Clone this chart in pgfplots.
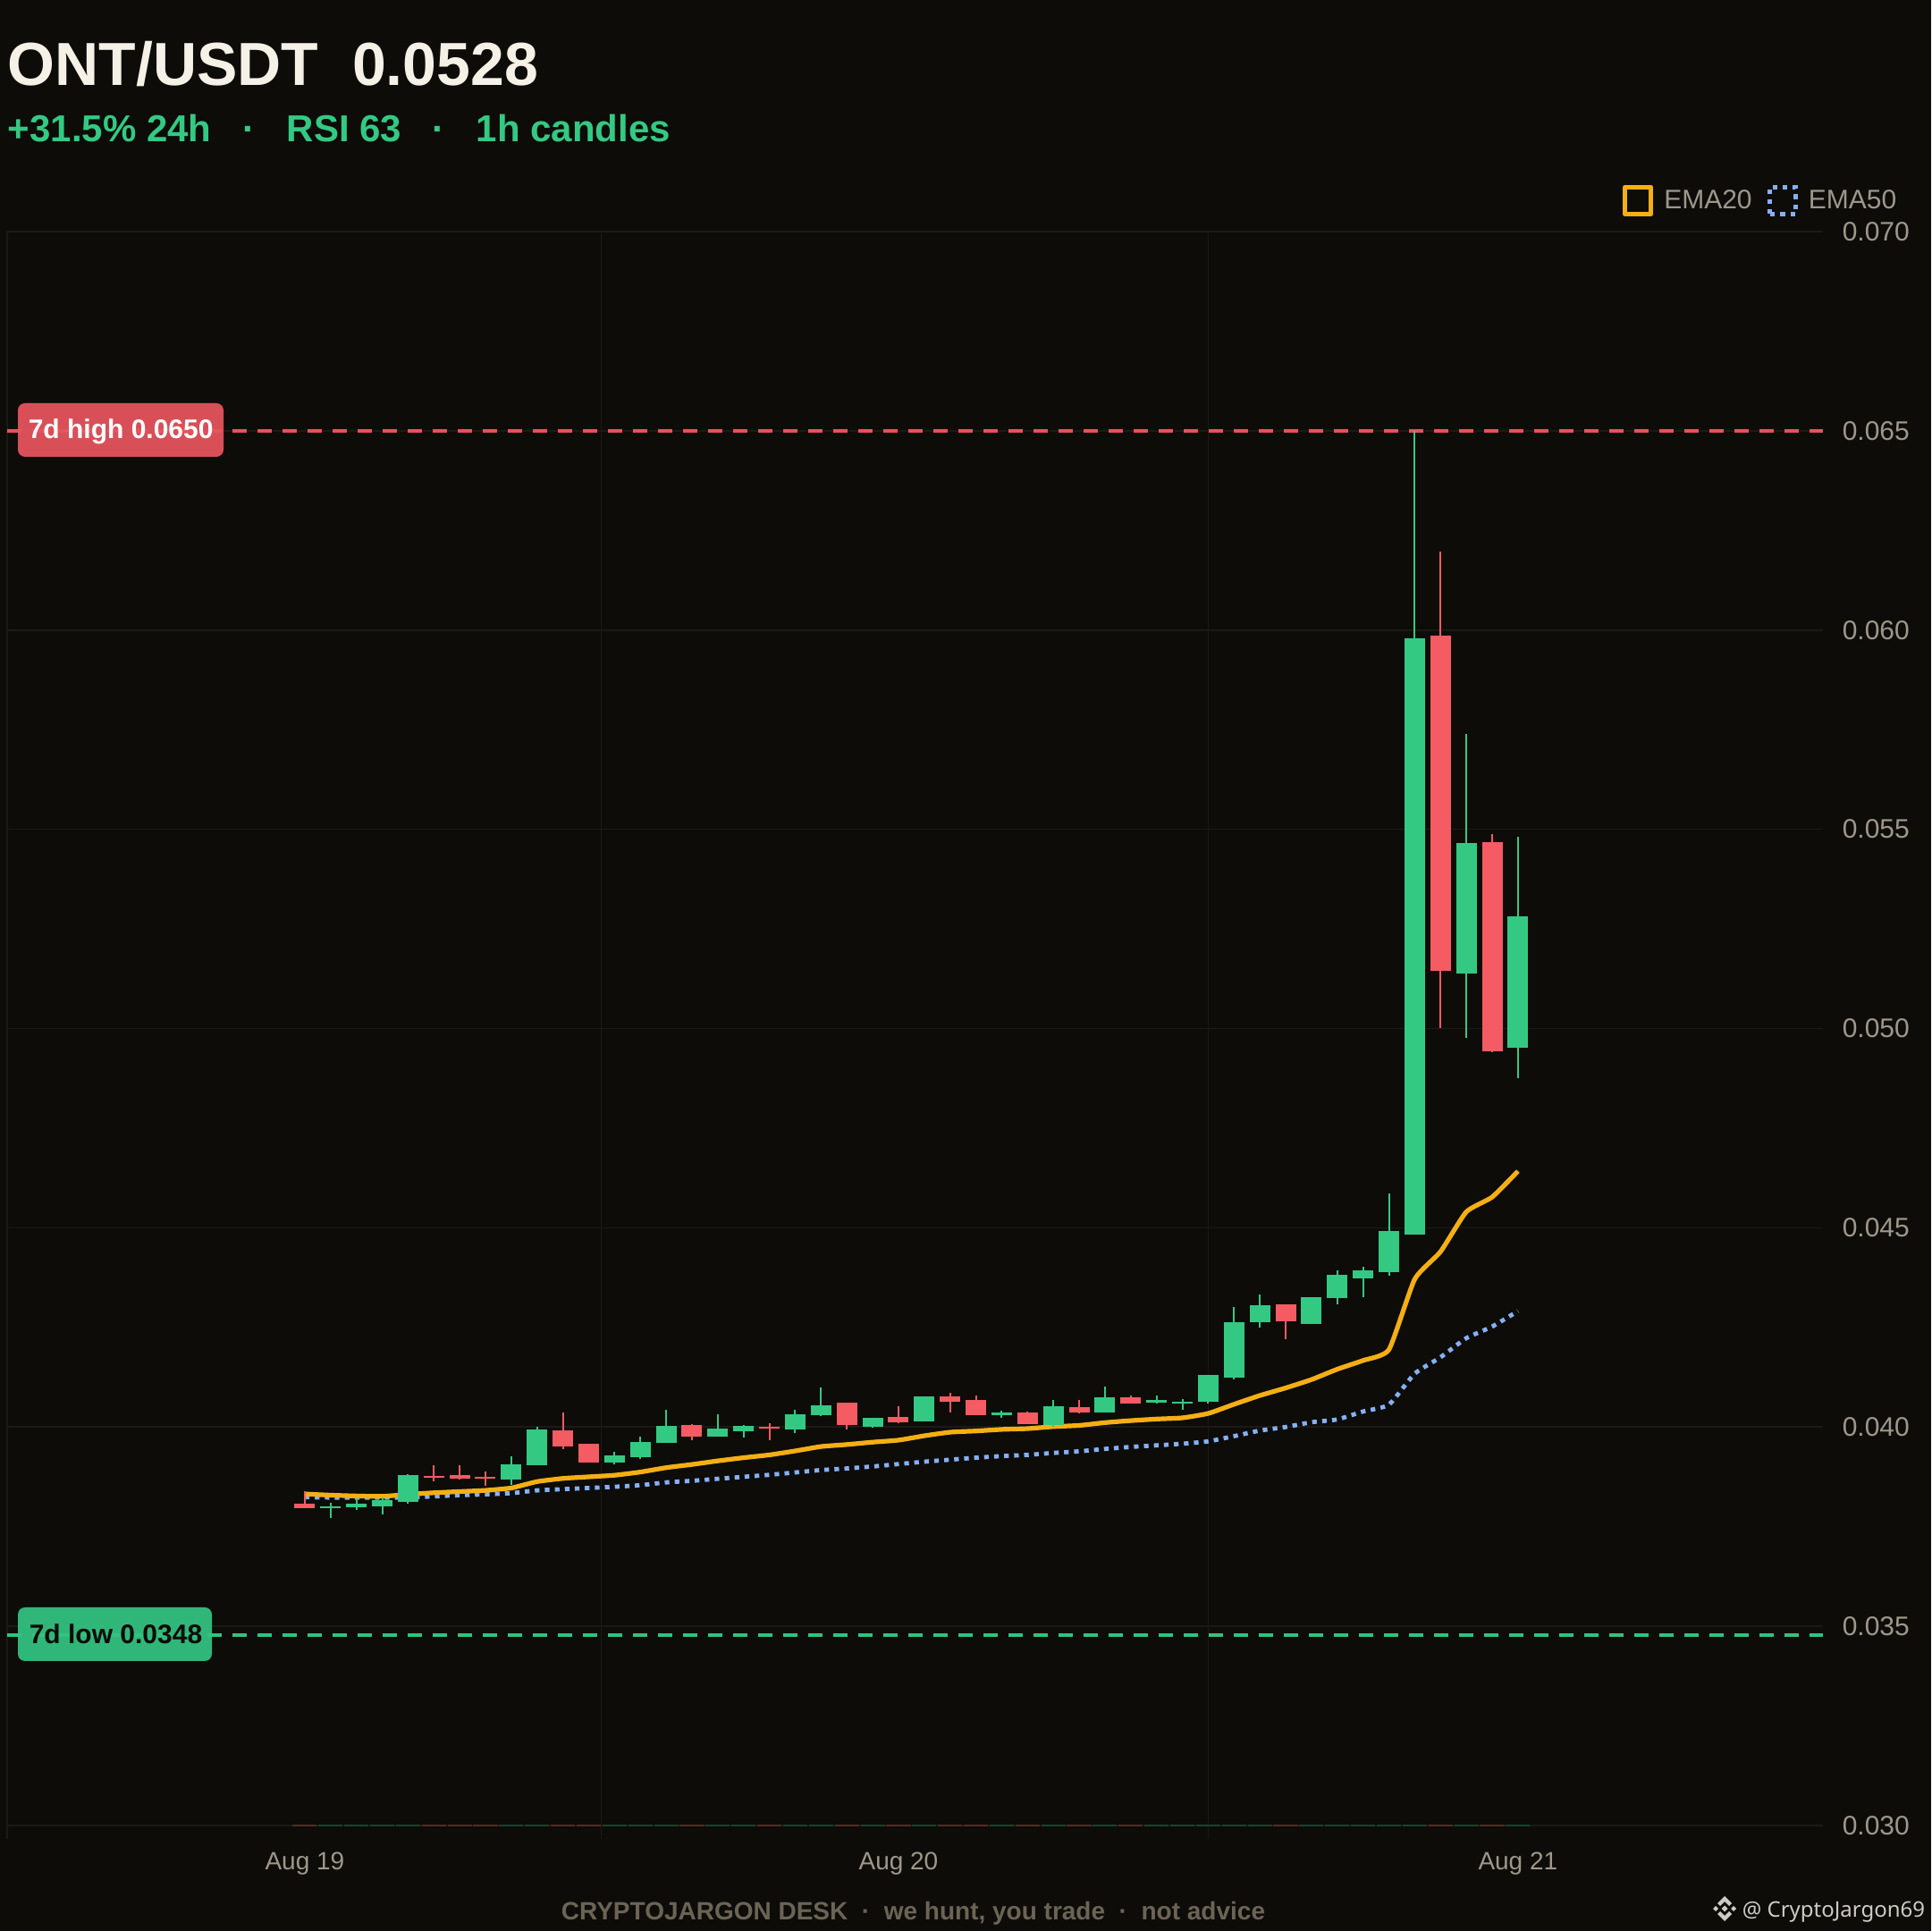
\documentclass[border=0pt]{standalone}
\usepackage{fontspec}
\usepackage{pgfplots}
\usepackage{pgfplotstable}
\pgfplotsset{compat=1.18}
\setmainfont{Liberation Sans}
\newfontfamily\wmfont{Noto Sans}

\definecolor{bgc}{RGB}{13,12,9}
\definecolor{gridc}{RGB}{27,26,23}
\definecolor{upc}{RGB}{52,201,131}
\definecolor{downc}{RGB}{244,91,98}
\definecolor{upvol}{RGB}{20,70,48}
\definecolor{downvol}{RGB}{88,42,36}
\definecolor{ema20c}{RGB}{245,175,20}
\definecolor{ema50c}{RGB}{133,176,245}
\definecolor{tickc}{RGB}{158,151,138}
\definecolor{titlec}{RGB}{246,241,230}
\definecolor{footc}{RGB}{107,100,85}
\definecolor{wmc}{RGB}{205,203,195}
\definecolor{highbox}{RGB}{232,85,94}
\definecolor{lowbox}{RGB}{51,195,130}
\definecolor{highline}{RGB}{234,80,88}
\definecolor{lowline}{RGB}{46,196,128}

% x bodylo bodyhi lo hi
\pgfplotstableread{
x bodylo bodyhi lo hi
1 0.03797 0.03802 0.03771 0.03809
2 0.03798 0.03807 0.03791 0.03820
3 0.03802 0.03817 0.03780 0.03824
4 0.03811 0.03879 0.03807 0.03882
8 0.03868 0.03907 0.03854 0.03927
9 0.03905 0.03993 0.03905 0.04001
12 0.03910 0.03929 0.03906 0.03937
13 0.03924 0.03962 0.03919 0.03975
14 0.03960 0.04002 0.03960 0.04043
16 0.03976 0.03996 0.03976 0.04031
17 0.03990 0.04002 0.03974 0.04004
19 0.03994 0.04031 0.03985 0.04044
20 0.04030 0.04054 0.04027 0.04100
22 0.04001 0.04024 0.03998 0.04024
24 0.04013 0.04077 0.04013 0.04077
27 0.04030 0.04037 0.04023 0.04041
29 0.04006 0.04052 0.04000 0.04068
31 0.04037 0.04074 0.04037 0.04102
33 0.04061 0.04067 0.04058 0.04079
34 0.04058 0.04064 0.04043 0.04070
35 0.04063 0.04130 0.04058 0.04130
36 0.04125 0.04264 0.04119 0.04302
37 0.04263 0.04305 0.04249 0.04332
39 0.04258 0.04326 0.04258 0.04326
40 0.04323 0.04383 0.04307 0.04393
41 0.04374 0.04393 0.04326 0.04402
42 0.04388 0.04492 0.04380 0.04585
43 0.04484 0.05979 0.04482 0.06500
45 0.05138 0.05466 0.04976 0.05739
47 0.04951 0.05281 0.04875 0.05481
}\upcandles

\pgfplotstableread{
x bodylo bodyhi lo hi
0 0.03797 0.03808 0.03797 0.03840
5 0.03873 0.03878 0.03863 0.03903
6 0.03871 0.03879 0.03868 0.03905
7 0.03870 0.03876 0.03852 0.03889
10 0.03951 0.03991 0.03945 0.04036
11 0.03910 0.03957 0.03910 0.03957
15 0.03975 0.04004 0.03966 0.04007
18 0.03996 0.04001 0.03968 0.04009
21 0.04004 0.04062 0.03993 0.04062
23 0.04012 0.04025 0.04009 0.04053
25 0.04064 0.04076 0.04036 0.04085
26 0.04030 0.04067 0.04030 0.04079
28 0.04007 0.04036 0.04007 0.04039
30 0.04037 0.04051 0.04034 0.04068
32 0.04059 0.04074 0.04058 0.04080
38 0.04266 0.04309 0.04220 0.04309
44 0.05144 0.05985 0.05002 0.06197
46 0.04943 0.05467 0.04941 0.05489
}\downcandles

\pgfplotstableread{
x ema20 ema50
0 0.03832 0.03824
1 0.03829 0.03823
2 0.03827 0.03823
3 0.03826 0.03823
4 0.03831 0.03823
5 0.03835 0.03826
6 0.03838 0.03829
7 0.03841 0.03831
8 0.03847 0.03834
9 0.03863 0.03841
10 0.03871 0.03844
11 0.03875 0.03847
12 0.03879 0.03850
13 0.03887 0.03854
14 0.03898 0.03861
15 0.03906 0.03865
16 0.03915 0.03870
17 0.03923 0.03875
18 0.03930 0.03880
19 0.03940 0.03886
20 0.03951 0.03892
21 0.03956 0.03896
22 0.03962 0.03901
23 0.03967 0.03907
24 0.03978 0.03913
25 0.03987 0.03918
26 0.03990 0.03923
27 0.03994 0.03927
28 0.03996 0.03930
29 0.04001 0.03935
30 0.04004 0.03939
31 0.04011 0.03945
32 0.04016 0.03950
33 0.04020 0.03954
34 0.04023 0.03958
35 0.04034 0.03964
36 0.04057 0.03977
37 0.04079 0.03991
38 0.04098 0.04000
39 0.04119 0.04012
40 0.04145 0.04019
41 0.04167 0.04039
42 0.04194 0.04056
43 0.04371 0.04134
44 0.04440 0.04175
45 0.04540 0.04223
46 0.04577 0.04252
47 0.04642 0.04291
}\emas

\begin{document}
\begin{tikzpicture}
\useasboundingbox (0,0) rectangle (540pt,540pt);
\fill[bgc] (0,0) rectangle (540pt,540pt);

\begin{axis}[
    at={(2.0pt,29.5pt)}, anchor=south west,
    scale only axis, width=507.85pt, height=445.75pt,
    xmin=-11.53, xmax=58.83,
    ymin=0.03, ymax=0.07,
    axis line style={draw=none},
    clip=false,
    font=\fontsize{7.5}{9}\selectfont,
    yticklabel pos=right,
    xtick pos=bottom,
    ytick={0.03,0.035,0.04,0.045,0.05,0.055,0.06,0.065,0.07},
    scaled y ticks=false,
    yticklabel style={/pgf/number format/fixed, /pgf/number format/fixed zerofill,
      /pgf/number format/precision=3, /pgf/number format/assume math mode=true,
      text=tickc, anchor=west, xshift=1.8pt},
    ymajorgrids=true,
    grid style={gridc, line width=0.4pt},
    xtick={0,23,47},
    xticklabels={Aug 19,Aug 20,Aug 21},
    xticklabel style={text=tickc, font=\fontsize{7}{9}\selectfont, yshift=-4pt},
    major tick length=0pt,
    tick style={draw=none},
    extra x ticks={-11.53,11.49,35.0},
    extra x tick labels={},
    extra x tick style={xmajorgrids=true, major tick length=3.75pt, tick align=outside,
      tick style={draw=gridc, line width=0.4pt}},
    legend columns=-1,
    reverse legend,
    legend style={at={(1.0446,1.0186)}, anchor=east, draw=none, fill=none,
      font=\fontsize{7.5}{9}\selectfont, text=tickc, inner sep=0pt,
      /tikz/every even column/.append style={column sep=2.3pt}},
    legend image code/.code={\draw[#1, line width=1.3pt] (0pt,-3.35pt) rectangle (7.25pt,4.15pt);\path (8.25pt,0pt);},
]

% bottom strip, one cell per candle
\addplot[draw=none, no marks, forget plot,
  error bars/.cd, x dir=both, x explicit, error mark=none,
  error bar style={line width=0.5pt, draw=upvol}]
  table[x=x, y expr=0.03001, x error expr=0.47] {\upcandles};
\addplot[draw=none, no marks, forget plot,
  error bars/.cd, x dir=both, x explicit, error mark=none,
  error bar style={line width=0.5pt, draw=downvol}]
  table[x=x, y expr=0.03001, x error expr=0.47] {\downcandles};

% 7d levels
\addplot[highline, line width=0.9pt, dash pattern=on 4pt off 3pt, forget plot]
  coordinates {(-11.53,0.065) (58.83,0.065)};
\addplot[lowline, line width=0.9pt, dash pattern=on 4pt off 3pt, forget plot]
  coordinates {(-11.53,0.03478) (58.83,0.03478)};

% EMA
\addplot[ema50c, line width=1.2pt, dash pattern=on 1.3pt off 1.5pt, smooth, tension=0.3]
  table[x=x, y=ema50] {\emas};
\addlegendentry{EMA50}
\addplot[ema20c, line width=1.3pt, line join=round, smooth, tension=0.3]
  table[x=x, y=ema20] {\emas};
\addlegendentry{EMA20}

% wicks
\addplot[draw=none, no marks, forget plot,
  error bars/.cd, y dir=minus, y explicit, error mark=none,
  error bar style={line width=0.5pt, draw=upc}]
  table[x=x, y=hi, y error minus expr=\thisrow{hi}-\thisrow{lo}] {\upcandles};
\addplot[draw=none, no marks, forget plot,
  error bars/.cd, y dir=minus, y explicit, error mark=none,
  error bar style={line width=0.5pt, draw=downc}]
  table[x=x, y=hi, y error minus expr=\thisrow{hi}-\thisrow{lo}] {\downcandles};

% bodies
\addplot[draw=none, no marks, forget plot,
  error bars/.cd, y dir=minus, y explicit, error mark=none,
  error bar style={line width=5.75pt, draw=upc}]
  table[x=x, y=bodyhi, y error minus expr=\thisrow{bodyhi}-\thisrow{bodylo}] {\upcandles};
\addplot[draw=none, no marks, forget plot,
  error bars/.cd, y dir=minus, y explicit, error mark=none,
  error bar style={line width=5.75pt, draw=downc}]
  table[x=x, y=bodyhi, y error minus expr=\thisrow{bodyhi}-\thisrow{bodylo}] {\downcandles};
\end{axis}

% everything below is placed in image pixels, origin top left
\begin{scope}[shift={(0,540pt)}, x=0.25pt, y=-0.25pt]
  \node[anchor=base west, inner sep=0pt, text=titlec, font=\fontsize{17}{20}\selectfont\bfseries]
    at (8,96) {ONT/USDT\ \ 0.0528};
  \begin{scope}[every node/.style={anchor=base west, inner sep=0pt, text=upc,
      font=\fontsize{10.5}{13}\selectfont\bfseries}]
    \node at (8,158.5) {+31.5\% 24h};
    \node at (271,158.5) {·};
    \node at (320,158.5) {RSI 63};
    \node at (483,158.5) {·};
    \node at (532,158.5) {1h candles};
  \end{scope}

  \fill[highbox, opacity=0.93, rounded corners=2pt] (20,451) rectangle (250,511);
  \node[anchor=base west, inner sep=0pt, text=white, font=\fontsize{7.5}{9}\selectfont\bfseries]
    at (31,491) {7d high 0.0650};
  \fill[lowbox, opacity=0.93, rounded corners=2pt] (20,1798) rectangle (237,1858);
  \node[anchor=base west, inner sep=0pt, text=bgc, font=\fontsize{7.5}{9}\selectfont\bfseries]
    at (32,1839) {7d low 0.0348};

  \node[anchor=base, inner sep=0pt, text=footc, font=\fontsize{7}{9}\selectfont\bfseries]
    at (1021.5,2148) {CRYPTOJARGON DESK\ \ ·\ \ we hunt, you trade\ \ ·\ \ not advice};

  \node[anchor=base west, inner sep=0pt, text=wmc, font=\wmfont\fontsize{6}{8}\selectfont]
    at (1948,2144) {@ CryptoJargon69};
  % exchange logo
  \fill[wmc] (1929,2131.5) -- (1932.5,2135) -- (1929,2138.5) -- (1925.5,2135) -- cycle;
  \fill[wmc] (1919,2132) -- (1922,2135) -- (1919,2138) -- (1916,2135) -- cycle;
  \fill[wmc] (1939,2132) -- (1942,2135) -- (1939,2138) -- (1936,2135) -- cycle;
  \fill[wmc] (1929,2121) -- (1937,2129) -- (1934,2132) -- (1929,2127) -- (1924,2132) -- (1921,2129) -- cycle;
  \fill[wmc] (1929,2149) -- (1937,2141) -- (1934,2138) -- (1929,2143) -- (1924,2138) -- (1921,2141) -- cycle;
\end{scope}
\end{tikzpicture}
\end{document}
